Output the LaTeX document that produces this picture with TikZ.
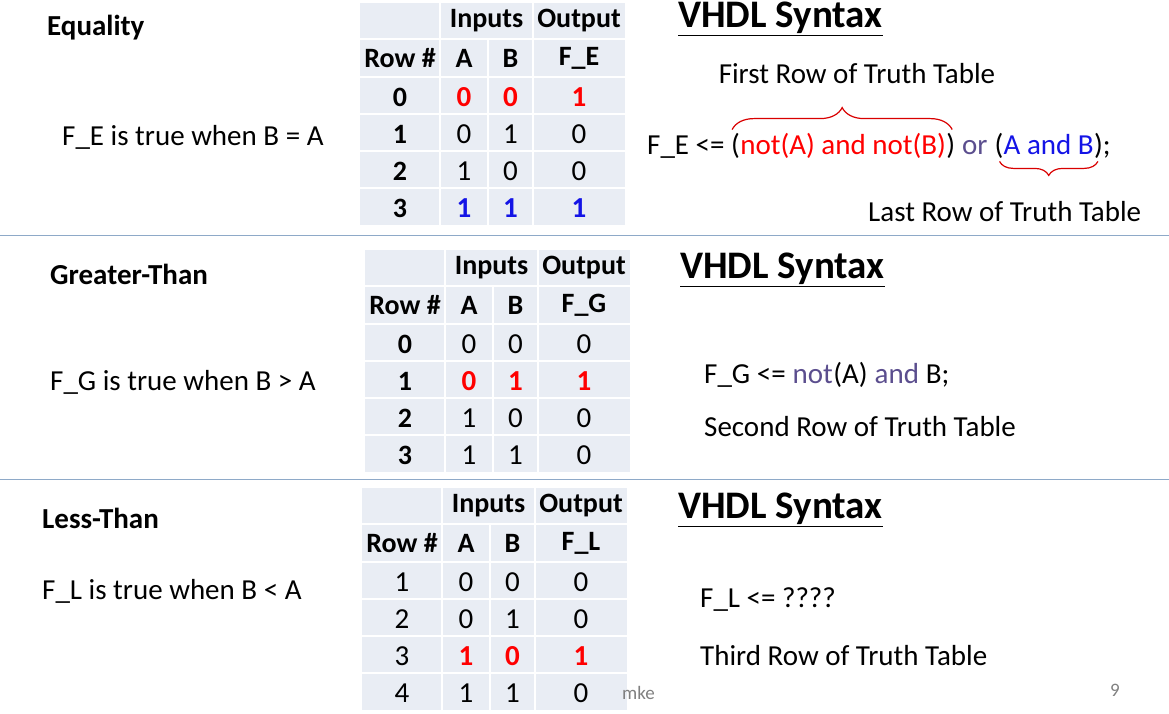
\documentclass[tikz,border=0pt]{standalone}
\usepackage{fontspec}
\setmainfont{Carlito}
\usetikzlibrary{decorations.pathreplacing}
\definecolor{cellbg}{HTML}{E9EDF4}
\definecolor{rulebl}{HTML}{8EA9C8}
\definecolor{kwpurple}{HTML}{5B4E8E}
\definecolor{valblue}{HTML}{1414E6}
\tikzset{
  txt/.style={anchor=west, inner sep=0pt, font=\fontsize{29}{34}\selectfont},
  lbl/.style={anchor=west, inner sep=0pt, font=\fontsize{29}{34}\selectfont\bfseries},
  vhdl/.style={anchor=west, inner sep=0pt, font=\fontsize{39}{44}\selectfont\bfseries},
  cell/.style={inner sep=0pt, font=\fontsize{29}{34}\selectfont},
  hcell/.style={cell, font=\fontsize{28}{34}\selectfont\bfseries},
  red/.style={text=red, font=\fontsize{29}{34}\selectfont\bfseries},
  blu/.style={text=valblue, font=\fontsize{29}{34}\selectfont\bfseries},
  seq/.style={anchor=base west, inner sep=0pt, font=\fontsize{29}{34}\selectfont},
}
\newcommand{\tablegrid}{%
  \fill[cellbg] (0,0) rectangle (265,222);
  \draw[white, line width=1.5pt] (0,36) -- (265,36)
    (0,74) -- (265,74) (0,111) -- (265,111) (0,148) -- (265,148) (0,185) -- (265,185)
    (80,0) -- (80,222) (128,36) -- (128,222) (173,0) -- (173,222);
}
\begin{document}
\begin{tikzpicture}[x=1pt,y=-1pt]
\useasboundingbox (0,0) rectangle (1169,714);
% separators
\draw[rulebl, line width=1pt] (0,235) -- (1169,235);
\draw[rulebl, line width=1pt] (0,479) -- (1169,479);

% left labels
\node[lbl] (eqT) at (47,28) {Equality};
\node[txt] (eqD) at (62,137) {F\_E is true when B = A};
\node[lbl] (gtT) at (50,274) {Greater-Than};
\node[txt] (gtD) at (50,382) {F\_G is true when B > A};
\node[lbl] (ltT) at (42,518) {Less-Than};
\node[txt] (ltD) at (42,591) {F\_L is true when B < A};

% equality table
\begin{scope}[shift={(360,3)}]
  \tablegrid
  \node[hcell] (e1) at (126.5,18) {Inputs};
  \node[hcell] (e2) at (219,18) {Output};
  \node[hcell] at (40,55) {Row \#};
  \node[hcell] at (104,55) {A};
  \node[hcell] at (150.5,55) {B};
  \node[hcell] at (219,55) {F\_E};
  \foreach \r/\a/\b/\f/\st [count=\i] in {0/0/0/1/red,1/0/1/0/cell,2/1/0/0/cell,3/1/1/1/blu}{
    \node[hcell] at (40,57+37*\i) {\r};
    \node[cell,\st] at (104,57+37*\i) {\a};
    \node[cell,\st] at (150.5,57+37*\i) {\b};
    \node[cell,\st] at (219,57+37*\i) {\f};
  }
\end{scope}

% greater-than table
\begin{scope}[shift={(365,250)}]
  \tablegrid
  \node[hcell] at (126.5,18) {Inputs};
  \node[hcell] at (219,18) {Output};
  \node[hcell] at (40,55) {Row \#};
  \node[hcell] at (104,55) {A};
  \node[hcell] at (150.5,55) {B};
  \node[hcell] at (219,55) {F\_G};
  \foreach \r/\a/\b/\f/\st [count=\i] in {0/0/0/0/cell,1/0/1/1/red,2/1/0/0/cell,3/1/1/0/cell}{
    \node[hcell] at (40,57+37*\i) {\r};
    \node[cell,\st] at (104,57+37*\i) {\a};
    \node[cell,\st] at (150.5,57+37*\i) {\b};
    \node[cell,\st] at (219,57+37*\i) {\f};
  }
\end{scope}

% less-than table
\begin{scope}[shift={(362,488)}]
  \tablegrid
  \node[hcell] at (126.5,18) {Inputs};
  \node[hcell] at (219,18) {Output};
  \node[hcell] at (40,55) {Row \#};
  \node[hcell] at (104,55) {A};
  \node[hcell] at (150.5,55) {B};
  \node[hcell] at (219,55) {F\_L};
  \foreach \r/\a/\b/\f/\st [count=\i] in {1/0/0/0/cell,2/0/1/0/cell,3/1/0/1/red,4/1/1/0/cell}{
    \node[cell] at (40,57+37*\i) {\r};
    \node[cell,\st] at (104,57+37*\i) {\a};
    \node[cell,\st] at (150.5,57+37*\i) {\b};
    \node[cell,\st] at (219,57+37*\i) {\f};
  }
\end{scope}

% VHDL syntax, equality
\node[vhdl] (v1) at (678,19) {\underline{VHDL Syntax}};
\node[txt, anchor=center] (first) at (857,74) {First Row of Truth Table};
\node[seq] (fe1) at (647,155) {F\_E <= (};
\node[seq, text=red] (fe2) at (fe1.base east) {not(A) and not(B)};
\node[seq] (fe3) at (fe2.base east) {)\ \hbox{}};
\node[seq, text=kwpurple] (fe4) at (fe3.base east) {or};
\node[seq] (fe5) at (fe4.base east) {\ (};
\node[seq, text=valblue] (fe6) at (fe5.base east) {A and B};
\node[seq] (fe7) at (fe6.base east) {);};
\draw[red!85!black, line width=1.2pt, decorate, decoration={brace, amplitude=22pt}]
  ([xshift=-8pt, yshift=4pt]fe2.north west) -- ([xshift=6pt, yshift=4pt]fe2.north east);
\draw[red!85!black, line width=1.2pt, decorate, decoration={brace, amplitude=14pt}]
  ([xshift=4pt, yshift=-6pt]fe6.south east) -- ([xshift=-4pt, yshift=-6pt]fe6.south west);
\node[txt] (last) at (868,212) {Last Row of Truth Table};

% VHDL syntax, greater-than
\node[vhdl] (v2) at (680,270) {\underline{VHDL Syntax}};
\node[seq] (fg1) at (704,383) {F\_G <=\ \hbox{}};
\node[seq, text=kwpurple] (fg2) at (fg1.base east) {not};
\node[seq] (fg3) at (fg2.base east) {(A)\ \hbox{}};
\node[seq, text=kwpurple] (fg4) at (fg3.base east) {and};
\node[seq] (fg5) at (fg4.base east) {\ B;};
\node[txt] (second) at (704,427) {Second Row of Truth Table};

% VHDL syntax, less-than
\node[vhdl] (v3) at (678,510) {\underline{VHDL Syntax}};
\node[txt] (fl) at (700,600) {F\_L <= ????};
\node[txt] (third) at (700,656) {Third Row of Truth Table};

% footer
\node[anchor=west, inner sep=0pt, text=gray, font=\fontsize{19}{22}\selectfont] (foot) at (622,693) {mke};
\node[anchor=west, inner sep=0pt, text=gray, font=\fontsize{19}{22}\selectfont] (page) at (1110,690) {9};
\end{tikzpicture}
\end{document}
